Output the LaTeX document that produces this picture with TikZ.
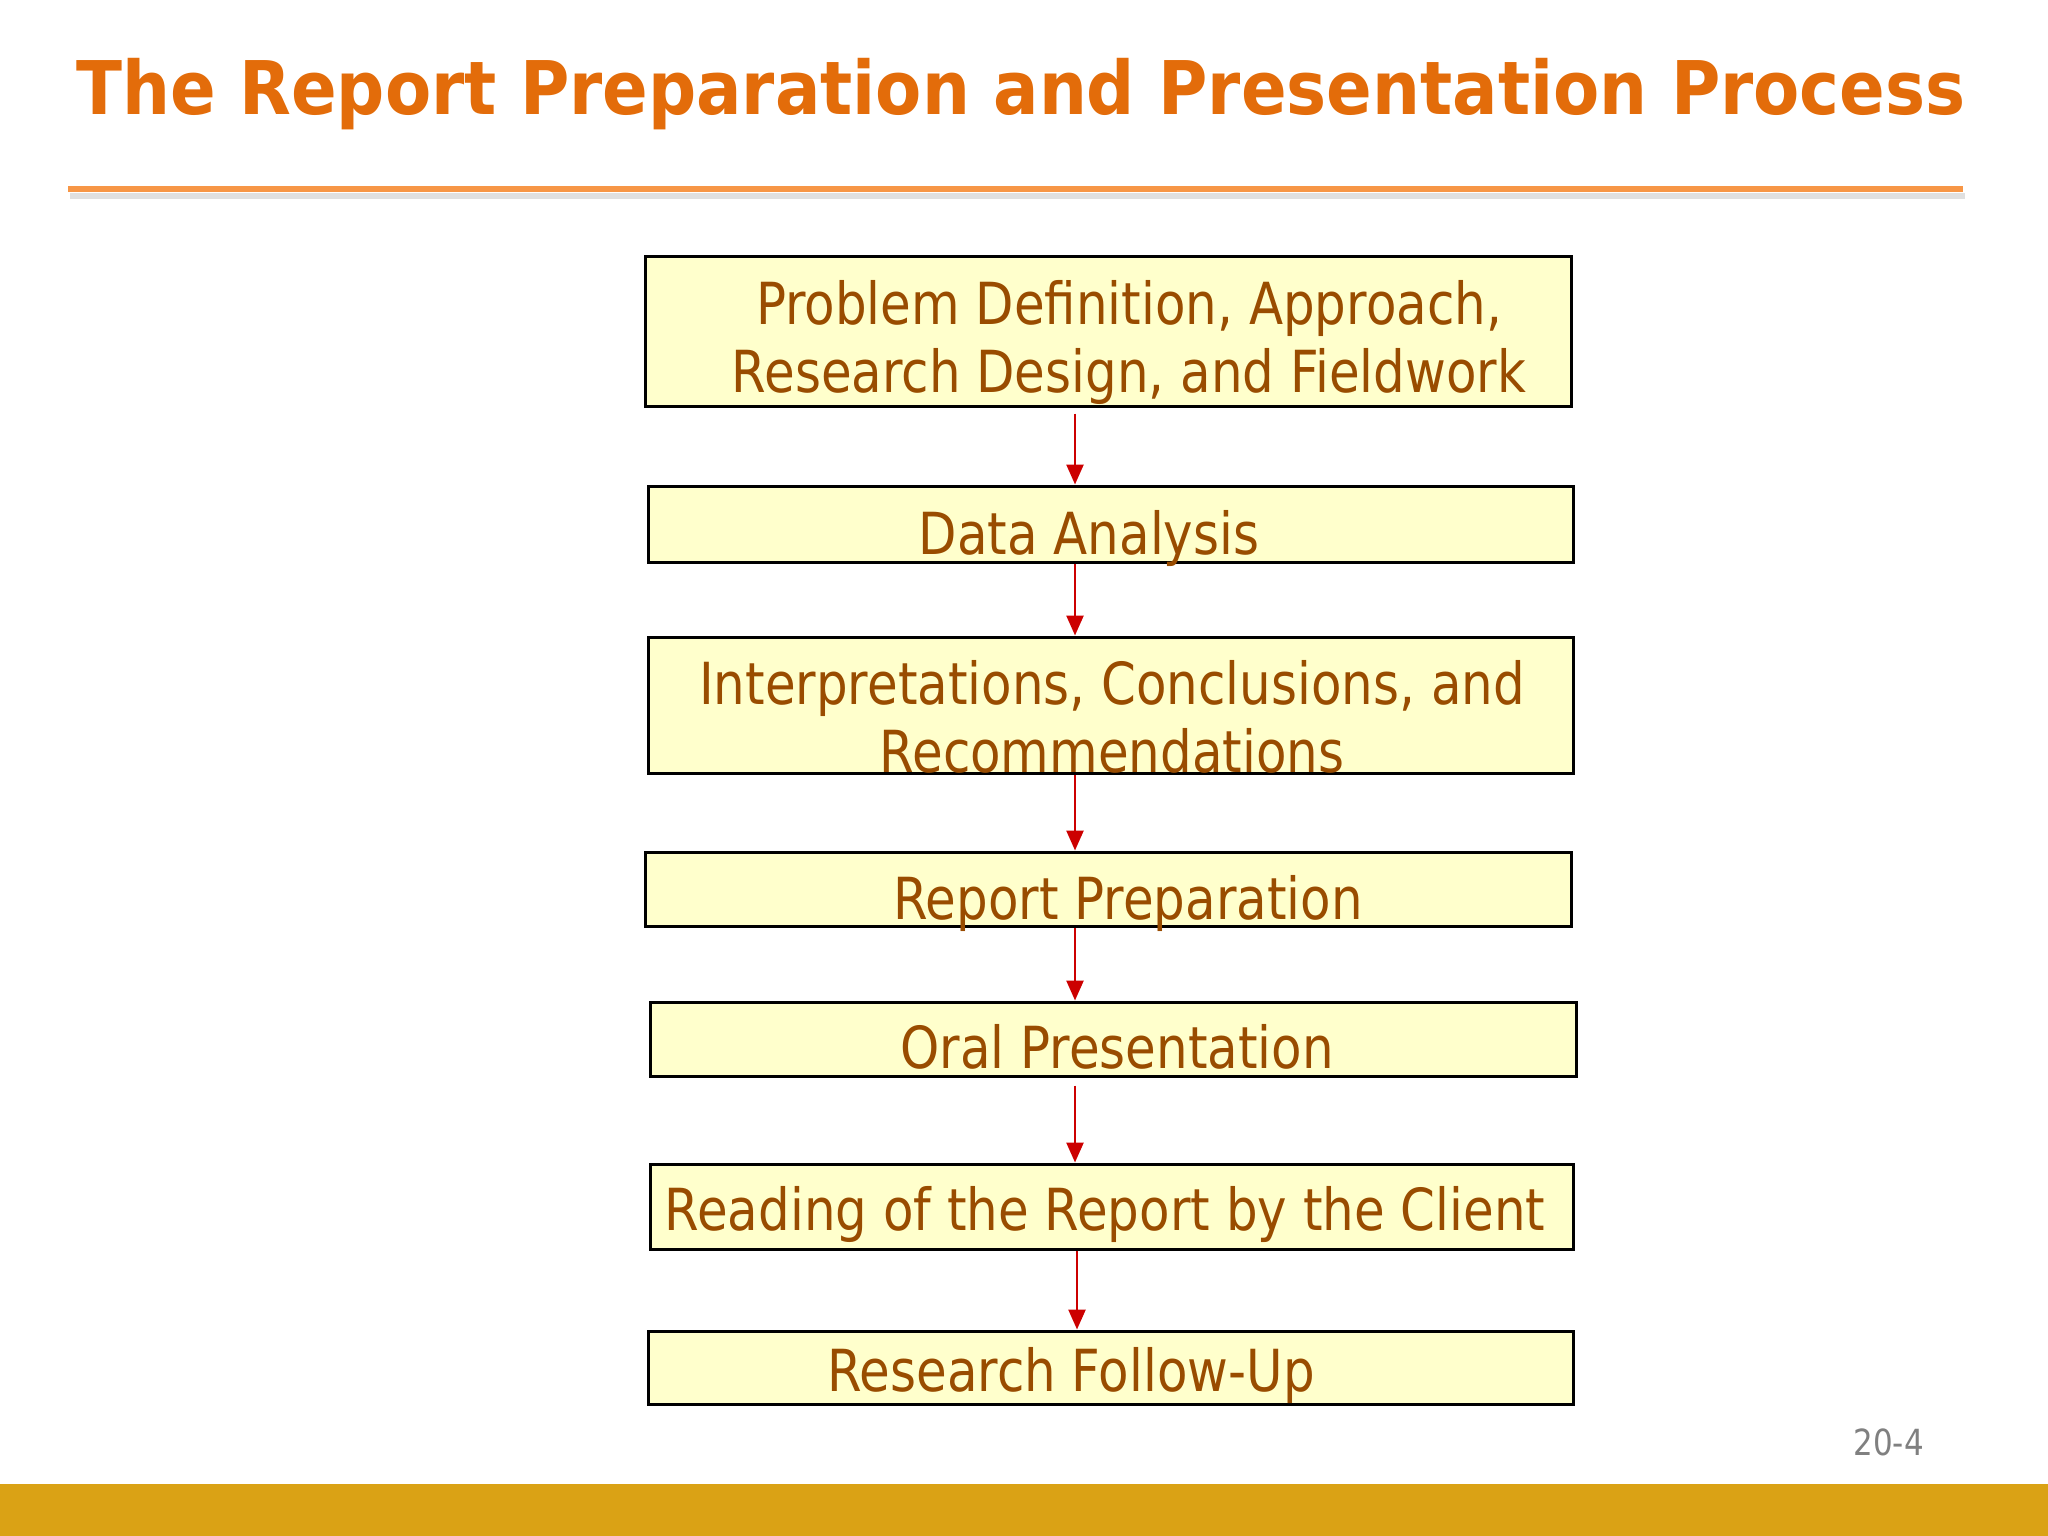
\documentclass[tikz,border=0pt]{standalone}
\usepackage{fontspec}
\setmainfont{DejaVu Sans}
\newfontfamily\boxfont[FakeStretch=0.86]{DejaVu Sans}
\newfontfamily\titlefont[FakeStretch=0.91]{DejaVu Sans}
\usetikzlibrary{arrows.meta}
\definecolor{titleorange}{RGB}{227,108,10}
\definecolor{ruleorange}{RGB}{247,150,70}
\definecolor{boxfill}{RGB}{255,255,204}
\definecolor{boxtext}{RGB}{153,76,0}
\definecolor{arrowred}{RGB}{204,0,0}
\definecolor{bargold}{RGB}{218,162,21}

\begin{document}
\begin{tikzpicture}[x=1pt,y=-1pt,
  stage/.style={draw=black,line width=3pt,fill=boxfill,minimum width=926pt,inner sep=0pt},
  stagetext/.style={anchor=base,text=boxtext,inner sep=0pt,align=center,
    font=\boxfont\fontsize{58}{68}\selectfont},
  flow/.style={draw=arrowred,line width=2.5pt,-{Triangle[length=20pt,width=17pt]}}]
\useasboundingbox (0,0) rectangle (2048,1536);
\fill[white] (0,0) rectangle (2048,1536);
% title and rule
\node[anchor=base,text=titleorange,inner sep=0pt,font=\titlefont\bfseries\fontsize{74}{80}\selectfont] (title) at (1021,115)
  {The Report Preparation and Presentation Process};
\draw[black!12,line width=6pt] (70,196) -- (1965,196);
\draw[ruleorange,line width=6pt] (68,189) -- (1963,189);
% boxes
\node[stage,minimum height=150pt] (b1) at (1108,331) {};
\node[stage,minimum height=76pt,minimum width=925pt] (b2) at (1110.5,524) {};
\node[stage,minimum height=136pt,minimum width=925pt] (b3) at (1110.5,705) {};
\node[stage,minimum height=74pt] (b4) at (1108,889) {};
\node[stage,minimum height=74pt] (b5) at (1113,1039) {};
\node[stage,minimum height=85pt,minimum width=923pt] (b6) at (1111.5,1206.5) {};
\node[stage,minimum height=73pt,minimum width=925pt] (b7) at (1110.5,1367.5) {};
% texts (base = last line)
\node[stagetext] (t1) at (1129,392) {Problem Definition, Approach,\\Research Design, and Fieldwork};
\node[stagetext] (t2) at (1089,554) {Data Analysis};
\node[stagetext] (t3) at (1112,772) {Interpretations, Conclusions, and\\Recommendations};
\node[stagetext] (t4) at (1128,919) {Report Preparation};
\node[stagetext] (t5) at (1117,1068) {Oral Presentation};
\node[stagetext] (t6) at (1105,1230) {Reading of the Report by the Client};
\node[stagetext] (t7) at (1071,1391) {Research Follow-Up};
% arrows
\coordinate (ax) at (1075,0);
\draw[flow,shorten <=6pt] (b1.south -| ax) -- (b2.north -| ax);
\draw[flow] (b2.south -| ax) -- (b3.north -| ax);
\draw[flow] (b3.south -| ax) -- (b4.north -| ax);
\draw[flow] (b4.south -| ax) -- (b5.north -| ax);
\draw[flow,shorten <=8pt] (b5.south -| ax) -- (b6.north -| ax);
\draw[flow] ([xshift=2pt]b6.south -| ax) -- ([xshift=2pt]b7.north -| ax);
% footer
\fill[bargold] (0,1484) rectangle (2048,1536);
\node[anchor=base east,text=black!50,inner sep=0pt,font=\boxfont\fontsize{36}{40}\selectfont] (page) at (1924,1455) {20-4};
\end{tikzpicture}
\end{document}
